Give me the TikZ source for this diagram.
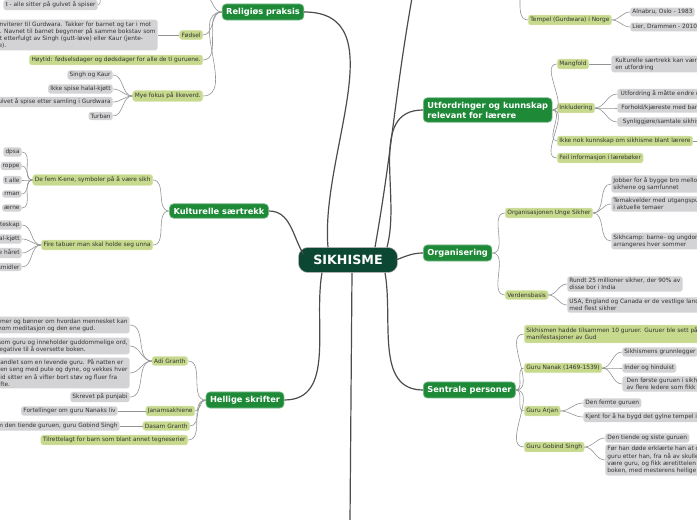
\documentclass[tikz,border=0pt]{standalone}
\usepackage{fontspec}
\setmainfont{DejaVu Sans}
\begin{document}
\begin{tikzpicture}[x=0.75pt,y=-0.75pt,
 gl/.style={fill=leafgray,rounded corners=2pt,inner xsep=1.6pt,inner ysep=1.4pt,font=\fontsize{4.4}{5.4}\selectfont,text=black!80,align=left},
 lg/.style={fill=subgreen,draw=subgreen!70!white,line width=0.4pt,rounded corners=2pt,inner xsep=1.6pt,inner ysep=1.6pt,font=\fontsize{4.4}{5.4}\selectfont,text=black!80,align=left},
 mn/.style={fill=maingreen,draw=maingreen!60!white,line width=0.5pt,rounded corners=3pt,inner xsep=3pt,inner ysep=3pt,font=\bfseries\fontsize{6.2}{7.5}\selectfont,text=white,align=left},
 cn/.style={draw=gray!85,line width=0.45pt},
 mc/.style={draw=black!70,line width=0.9pt}]
\definecolor{leafgray}{HTML}{D3D3D5}
\definecolor{subgreen}{HTML}{C6D98C}
\definecolor{maingreen}{HTML}{1E8A38}
\definecolor{darkc}{HTML}{0C4733}
\useasboundingbox (0,0) rectangle (697,520);
% central
\node[fill=darkc,draw=gray!60,rounded corners=7pt,minimum width=99pt*0.75,minimum height=25*0.75pt,font=\bfseries\fontsize{9.5}{11}\selectfont,text=white] (c) at (348,260) {SIKHISME};
% main nodes
\node[mn] (rp) at (263,12) {Religiøs praksis};
\node[mn] (ks) at (219,211) {Kulturelle særtrekk};
\node[mn] (hs) at (245,400) {Hellige skrifter};
\node[mn,anchor=west] (ut) at (423,110) {Utfordringer og kunnskap\\relevant for lærere};
\node[mn,anchor=west] (or) at (423,253) {Organisering};
\node[mn,anchor=west] (sp) at (423,390) {Sentrale personer};
\coordinate (topoff) at (412,-2);
\coordinate (botoff) at (350,522);
\draw[mc] (c.north) ++(-20,0) to[out=95,in=0] (rp.east);
\draw[mc] (c.west) ++(5,-6) to[out=120,in=0] (ks.east);
\draw[mc] (c.south) ++(-26,0) to[out=-100,in=0] (hs.east);
\draw[mc] (c.north) ++(27,0) to[out=80,in=-100] (topoff);
\draw[mc] (c.north) ++(39,0) to[out=75,in=180] (ut.west);
\draw[mc] (c.east) ++(-2,0) to[out=20,in=180] (or.west);
\draw[mc] (c.south) ++(37,0) to[out=-80,in=180] (sp.west);
\draw[mc] (c.south) ++(4,0) -- (botoff);

% ---------- Religiøs praksis
\node[lg,anchor=east,minimum width=75pt] (rp0) at (203,-5) {\phantom{x}};
\node[lg,anchor=east] (fo) at (203,35) {Fødsel};
\node[lg,anchor=east] (hy) at (203,60) {Høytid: fødselsdager og dødsdager for alle de ti guruene.};
\node[lg,anchor=east] (my) at (203,96) {Mye fokus på likeverd.};
\foreach \n in {rp0,fo,hy,my} \draw[cn] (rp.west) to[out=180,in=0] (\n.east);
\node[gl,anchor=east] (l0) at (98,5) {t - alle sitter på gulvet å spiser};
\draw[cn] (rp0.west) to[out=180,in=0] (l0.east);
\node[gl,anchor=east] (l1) at (158,35) {n inviterer til Gurdwara. Takker for barnet og tar i mot\\ap. Navnet til barnet begynner på samme bokstav som\\pet etterfulgt av Singh (gutt-løve) eller Kaur (jente-\\sse).};
\draw[cn] (fo.west) -- (l1.east);
\node[gl,anchor=east] (m1) at (113,75) {Singh og Kaur};
\node[gl,anchor=east] (m2) at (113,89) {Ikke spise halal-kjøtt};
\node[gl,anchor=east] (m3) at (113,102) {i gulvet å spise etter samling i Gurdwara};
\node[gl,anchor=east] (m4) at (113,116) {Turban};
\foreach \n in {m1,m2,m3,m4} \draw[cn] (my.west) to[out=180,in=0] (\n.east);

% ---------- Kulturelle særtrekk
\node[lg,anchor=east] (k1) at (153,180) {De fem K-ene, symboler på å være sikh};
\node[lg,anchor=east] (k2) at (153,245) {Fire tabuer man skal holde seg unna};
\foreach \n in {k1,k2} \draw[cn] (ks.west) to[out=180,in=0] (\n.east);
\foreach \t [count=\i] in {dpsa,roppe,t alle,rman,ærne}
 {\node[gl,anchor=east] (ka\i) at (22,138+14*\i) {\t};
  \draw[cn] (k1.west) to[out=180,in=0] (ka\i.east);}
\foreach \t [count=\i] in {kteskap,lal-kjøtt,ppe håret,usmidler}
 {\node[gl,anchor=east] (kb\i) at (22,211+14*\i) {\t};
  \draw[cn] (k2.west) to[out=180,in=0] (kb\i.east);}

% ---------- Hellige skrifter
\node[lg,anchor=east] (h1) at (188,361) {Adi Granth};
\node[lg,anchor=east] (h2) at (195,411) {Janamsakhiene};
\node[lg,anchor=east] (h3) at (190,426) {Dasam Granth};
\node[lg,anchor=east] (h4) at (188,440) {Tilrettelagt for barn som blant annet tegneserier};
\foreach \n in {h1,h2,h3,h4} \draw[cn] (hs.west) to[out=180,in=0] (\n.east);
\node[gl,anchor=east] (a1) at (130,325) {mmer og bønner om hvordan mennesket kan\\nnom meditasjon og den ene gud.};
\node[gl,anchor=east] (a2) at (130,346) {et som guru og inneholder guddommelige ord,\\e negative til å oversette boken.};
\node[gl,anchor=east] (a3) at (130,373) {andlet som en levende guru. På natten er\\en seng med pute og dyne, og vekkes hver\\id sitter en å vifter bort støv og fluer fra\\fte.};
\node[gl,anchor=east] (a4) at (130,397) {Skrevet på punjabi};
\foreach \n in {a1,a2,a3,a4} \draw[cn] (h1.west) to[out=180,in=0] (\n.east);
\node[gl,anchor=east] (j1) at (118,411) {Fortellinger om guru Nanaks liv};
\draw[cn] (h2.west) -- (j1.east);
\node[gl,anchor=east] (d1) at (120,426) {r om den tiende guruen, guru Gobind Singh};
\draw[cn] (h3.west) -- (d1.east);

% ---------- top branch (off canvas)
\coordinate (tb) at (520,-2);
\node[lg,anchor=west,minimum width=60pt] (tb0) at (528,-5) {\phantom{x}};
\node[lg,anchor=west] (te) at (528,20) {Tempel (Gurdwara) i Norge};
\draw[cn] (tb) to[out=-90,in=180] (te.west);
\node[gl,anchor=west] (t1) at (630,12) {Alnabru, Oslo - 1983};
\node[gl,anchor=west] (t2) at (630,27) {Lier, Drammen - 2010};
\foreach \n in {t1,t2} \draw[cn] (te.east) to[out=0,in=180] (\n.west);

% ---------- Utfordringer
\node[lg,anchor=west] (u1) at (557,64) {Mangfold};
\node[lg,anchor=west] (u2) at (557,108) {Inkludering};
\node[lg,anchor=west] (u3) at (557,141) {Ikke nok kunnskap om sikhisme blant lærere};
\node[lg,anchor=west] (u4) at (557,158) {Feil informasjon i lærebøker};
\foreach \n in {u1,u2,u3,u4} \draw[cn] (ut.east) to[out=0,in=180] (\n.west);
\coordinate (uoff) at (699,141);
\draw[cn] (u3.east) -- (uoff);
\node[gl,anchor=west,minimum width=70pt] (v1) at (611,64) {Kulturelle særtrekk kan være\\en utfordring};
\draw[cn] (u1.east) -- (v1.west);
\node[gl,anchor=west,minimum width=70pt] (w1) at (617,94) {Utfordring å måtte endre ung};
\node[gl,anchor=west,minimum width=70pt] (w2) at (617,108) {Forhold/kjæreste med barn a};
\node[gl,anchor=west,minimum width=70pt] (w3) at (617,122) {Synliggjøre/samtale sikhism};
\foreach \n in {w1,w2,w3} \draw[cn] (u2.east) to[out=0,in=180] (\n.west);

% ---------- Organisering
\node[lg,anchor=west] (o1) at (505,213) {Organisasjonen Unge Sikher};
\node[lg,anchor=west] (o2) at (505,295) {Verdensbasis};
\foreach \n in {o1,o2} \draw[cn] (or.east) to[out=0,in=180] (\n.west);
\node[gl,anchor=west,minimum width=70pt] (p1) at (611,184) {Jobber for å bygge bro mellom\\sikhene og samfunnet};
\node[gl,anchor=west,minimum width=70pt] (p2) at (611,204) {Temakvelder med utgangspunkt\\i aktuelle temaer};
\node[gl,anchor=west,minimum width=70pt] (p3) at (611,241) {Sikhcamp: barne- og ungdoms\\arrangeres hver sommer};
\foreach \n in {p1,p2,p3} \draw[cn] (o1.east) to[out=0,in=180] (\n.west);
\node[gl,anchor=west] (q1) at (567,284) {Rundt 25 millioner sikher, der 90\% av\\disse bor i India};
\node[gl,anchor=west,minimum width=100pt] (q2) at (567,305) {USA, England og Canada er de vestlige landene\\med flest sikher};
\foreach \n in {q1,q2} \draw[cn] (o2.east) to[out=0,in=180] (\n.west);

% ---------- Sentrale personer
\node[lg,anchor=west,minimum width=140pt] (s1) at (524,334) {Sikhismen hadde tilsammen 10 guruer. Guruer ble sett på som\\manifestasjoner av Gud};
\node[lg,anchor=west] (s2) at (524,368) {Guru Nanak (1469-1539)};
\node[lg,anchor=west] (s3) at (524,411) {Guru Arjan};
\node[lg,anchor=west] (s4) at (524,447) {Guru Gobind Singh};
\foreach \n in {s1,s2,s3,s4} \draw[cn] (sp.east) to[out=0,in=180] (\n.west);
\node[gl,anchor=west] (n1) at (622,352) {Sikhismens grunnlegger};
\node[gl,anchor=west] (n2) at (622,368) {Inder og hinduist};
\node[gl,anchor=west,minimum width=70pt] (n3) at (622,384) {Den første guruen i sikhisme\\av flere ledere som fikk titt};
\foreach \n in {n1,n2,n3} \draw[cn] (s2.east) to[out=0,in=180] (\n.west);
\node[gl,anchor=west] (r1) at (583,403) {Den femte guruen};
\node[gl,anchor=west,minimum width=90pt] (r2) at (583,417) {Kjent for å ha bygd det gylne tempel i Am};
\foreach \n in {r1,r2} \draw[cn] (s3.east) to[out=0,in=180] (\n.west);
\node[gl,anchor=west] (g1) at (605,438) {Den tiende og siste guruen};
\node[gl,anchor=west,minimum width=75pt] (g2) at (605,460) {Før han døde erklærte han at det\\guru etter han, fra nå av skulle d\\være guru, og fikk æretittelen G\\boken, med mesterens hellige le};
\foreach \n in {g1,g2} \draw[cn] (s4.east) to[out=0,in=180] (\n.west);
\end{tikzpicture}
\end{document}
